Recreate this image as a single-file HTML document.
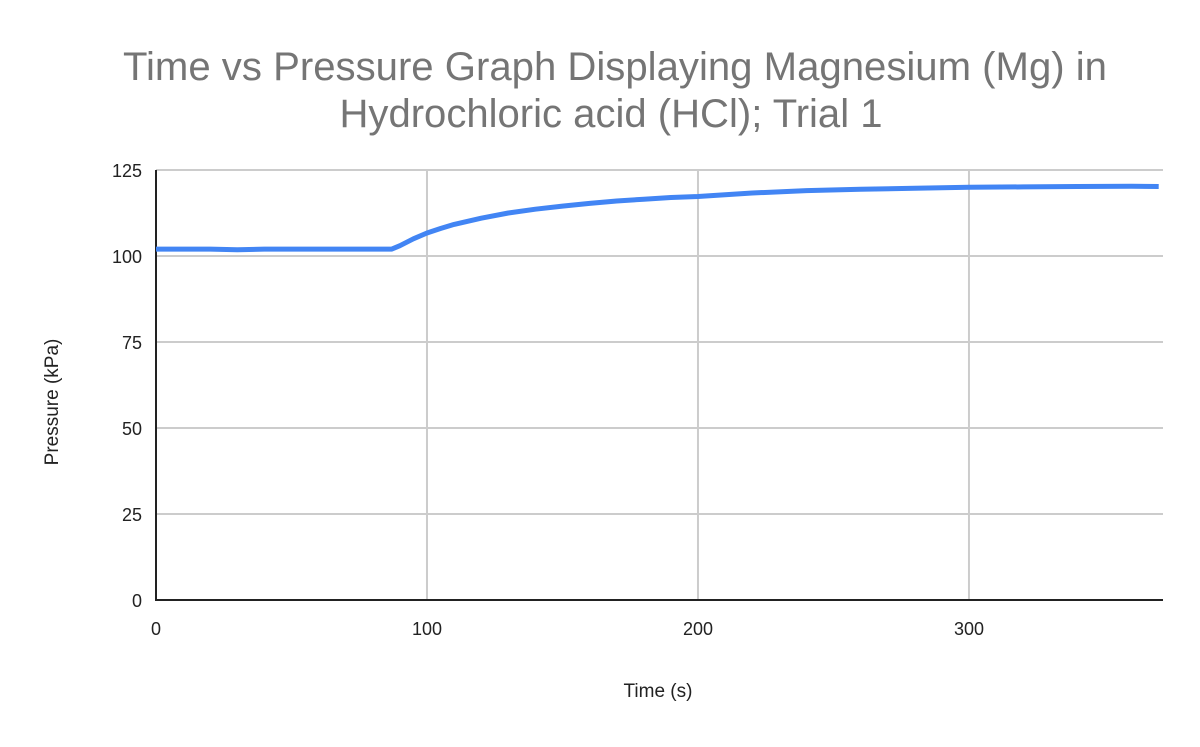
<!DOCTYPE html>
<html><head><meta charset="utf-8"><style>
body{margin:0;background:#fff;}
svg text{font-family:"Liberation Sans",Arial,sans-serif;}
</style></head><body>
<svg id="chart" width="1200" height="742" xmlns="http://www.w3.org/2000/svg">
<text x="615" y="80" text-anchor="middle" font-size="40" fill="#757575" textLength="984" lengthAdjust="spacingAndGlyphs">Time vs Pressure Graph Displaying Magnesium (Mg) in</text>
<text x="611" y="127" text-anchor="middle" font-size="40" fill="#757575" textLength="543" lengthAdjust="spacingAndGlyphs">Hydrochloric acid (HCl); Trial 1</text>
<g id="grid"></g><g id="ticks"></g><g id="series"></g>
<text x="658" y="697" text-anchor="middle" font-size="19" fill="#222">Time (s)</text>
<text transform="translate(58,402) rotate(-90)" text-anchor="middle" font-size="19" fill="#222">Pressure (kPa)</text>
</svg>
<script>
const times=[0,10,20,30,40,50,60,70,80,87,90,95,100,105,110,120,130,140,150,160,170,180,190,200,220,240,260,280,300,320,340,360,370];
const pressures=[102,102,102,101.8,102,102,102,102,102,102,103,105,106.7,108,109.2,111,112.5,113.6,114.5,115.3,116,116.5,117,117.3,118.3,119,119.4,119.7,120,120.1,120.2,120.3,120.2];
const xTicks=[0,100,200,300];
const yTicks=[0,25,50,75,100,125];
const NS="http://www.w3.org/2000/svg";
const X0=156,X1=1163,XMAX=371.6,Y0=600,Y1=170;
const xs=v=>X0+v/XMAX*(X1-X0);
const ys=v=>Y0-v/125*(Y0-Y1);
function mk(t,a,p){const e=document.createElementNS(NS,t);for(const k in a)e.setAttribute(k,a[k]);p.appendChild(e);return e;}
const grid=document.getElementById('grid'),ticks=document.getElementById('ticks'),ser=document.getElementById('series');
yTicks.forEach(v=>{
 if(v>0){const l=mk('line',{x1:X0,x2:X1,y1:ys(v),y2:ys(v),stroke:'#ccc','stroke-width':2},grid);
 
 }
 const t=mk('text',{x:X0-14,y:ys(v)+7,'text-anchor':'end','font-size':18,fill:'#222'},ticks);t.textContent=v;
 
 
});
xTicks.forEach(v=>{
 if(v>0){const l=mk('line',{x1:xs(v),x2:xs(v),y1:Y1,y2:Y0,stroke:'#ccc','stroke-width':2},grid);
 
 }
 const t=mk('text',{x:xs(v),y:Y0+35,'text-anchor':'middle','font-size':18,fill:'#222'},ticks);t.textContent=v;
 
 
});
const ya=mk('line',{x1:X0,x2:X0,y1:Y1,y2:Y0+1,stroke:'#222','stroke-width':2},grid);


const xa=mk('line',{x1:X0-1,x2:X1,y1:Y0,y2:Y0,stroke:'#222','stroke-width':2},grid);


const d=times.map((t,i)=>(i?'L':'M')+xs(t).toFixed(1)+','+ys(pressures[i]).toFixed(1)).join('');
const p=mk('path',{d:d,fill:'none',stroke:'#4285f4','stroke-width':5,'stroke-linejoin':'round'},ser);


</script>
</body></html>
